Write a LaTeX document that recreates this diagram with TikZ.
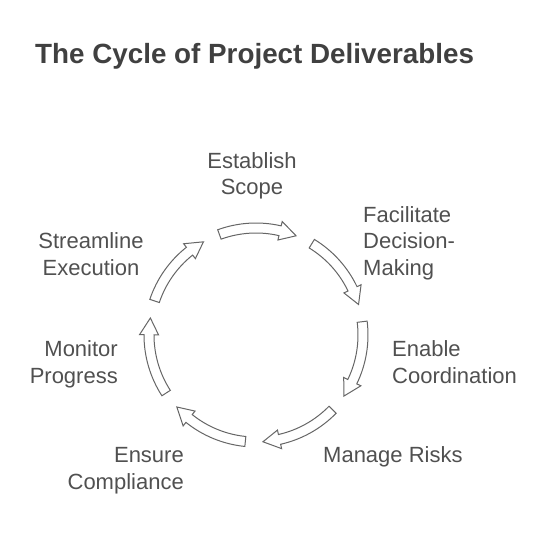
\documentclass[tikz,border=0pt]{standalone}
\usepackage{fontspec}
\setmainfont{Liberation Sans}
\definecolor{txt}{HTML}{505050}
\definecolor{ttl}{HTML}{404040}
\definecolor{arrline}{HTML}{666666}
\begin{document}
\begin{tikzpicture}[x=1pt,y=1pt,
  lbl/.style={inner sep=0pt, text=txt, font=\fontsize{22}{26.7}\selectfont},
  arr/.style={draw=arrline, fill=white, line width=1pt, line join=miter}]
\useasboundingbox (0,0) rectangle (550,-550);
\node[anchor=base west, inner sep=0pt, text=ttl, font=\fontsize{27.8}{32}\selectfont\bfseries] (title) at (35,-63) {The Cycle of Project Deliverables};
\coordinate (C) at (256,-335);
\foreach \k in {0,...,6} {
  \pgfmathsetmacro\c{89-51.4286*\k}
  \pgfmathsetmacro\a{\c+21}
  \pgfmathsetmacro\b{\c-21}
  \pgfmathsetmacro\n{\b+9}
  \draw[arr, shift={(C)}] (\a:112pt) arc[start angle=\a, end angle=\n, radius=112pt]
     -- (\n:116.5pt) -- (\b:107pt) -- (\n:97.5pt) -- (\n:102pt)
     arc[start angle=\n, end angle=\a, radius=102pt] -- cycle;
}
\node[lbl, anchor=base, align=center] (l1) at (252,-194.7) {Establish\\Scope};
\node[lbl, anchor=base west, align=left] (l2) at (363,-275.4) {Facilitate\\Decision-\\Making};
\node[lbl, anchor=base west, align=left] (l3) at (392,-383) {Enable\\Coordination};
\node[lbl, anchor=base west, align=left] (l4) at (323,-462) {Manage Risks};
\node[lbl, anchor=base east, align=right] (l5) at (184,-489) {Ensure\\Compliance};
\node[lbl, anchor=base east, align=right] (l6) at (118,-383) {Monitor\\Progress};
\node[lbl, anchor=base, align=center] (l7) at (91,-275) {Streamline\\Execution};
\end{tikzpicture}
\end{document}
